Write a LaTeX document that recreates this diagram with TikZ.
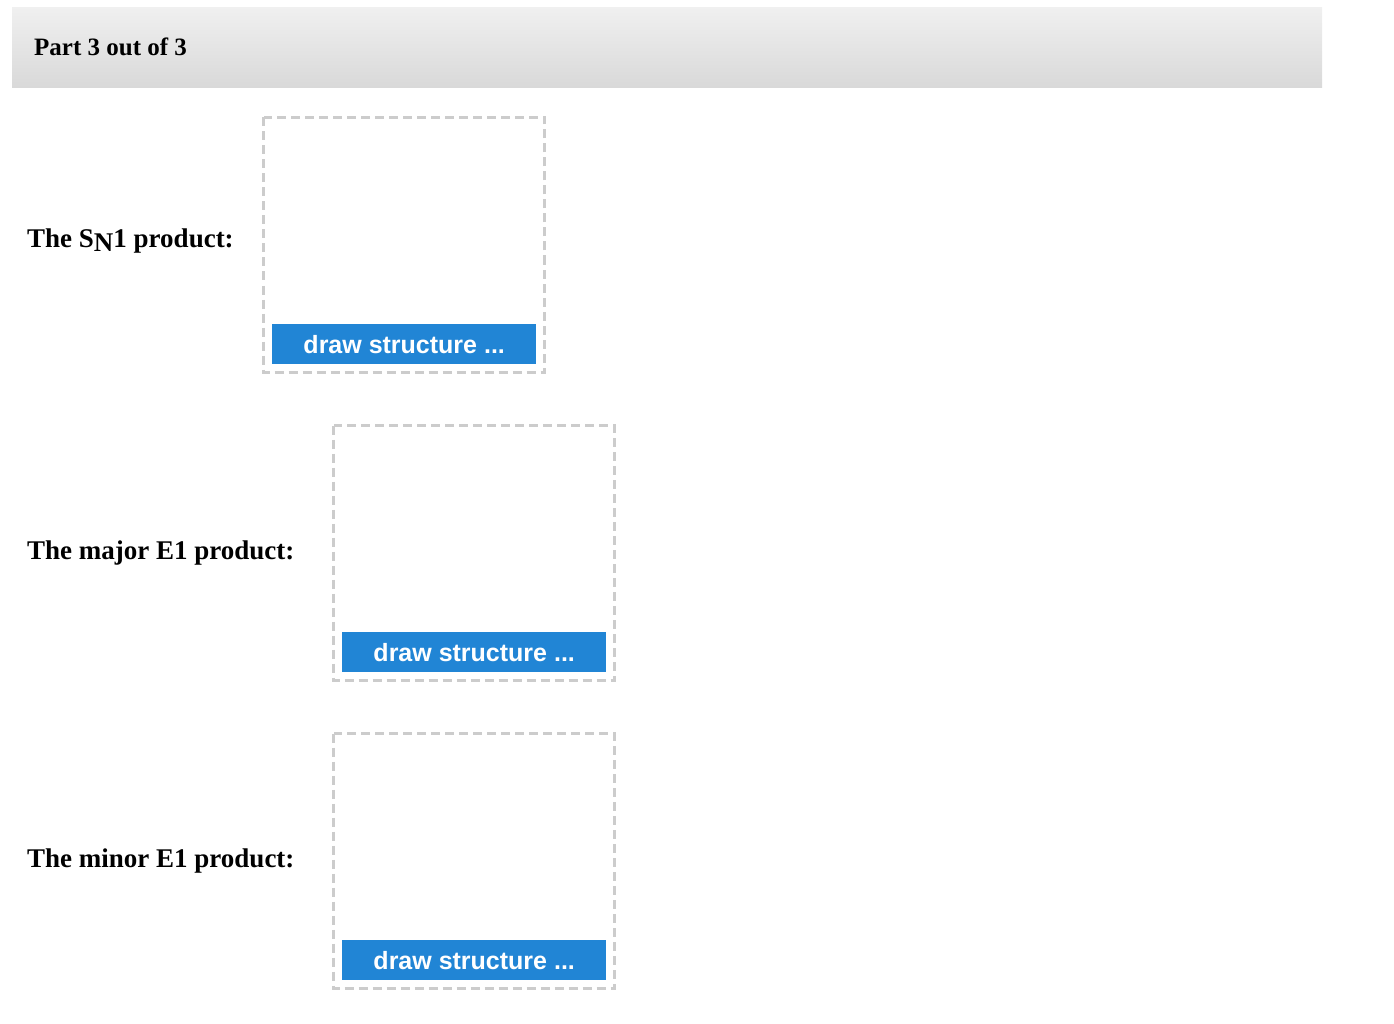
\documentclass[tikz,border=0pt]{standalone}
\usepackage{fontspec}
\setmainfont{Liberation Serif}
\setsansfont{Liberation Sans}
\definecolor{btn}{HTML}{2185D5}
\definecolor{dash}{HTML}{CCCCCC}
\begin{document}
\begin{tikzpicture}[x=1pt,y=-1pt,
  lbl/.style={anchor=west,font=\bfseries\fontsize{27}{30}\selectfont,inner sep=0},
  slot/.style={draw=dash,line width=3pt,dash pattern=on 9pt off 5pt},
  btnbox/.style={fill=btn,text=white,font=\sffamily\bfseries\fontsize{25}{28}\selectfont,inner sep=0,minimum width=264pt,minimum height=40pt,anchor=north west}]
\useasboundingbox (0,0) rectangle (1394,1024);
\shade[top color=black!6,bottom color=black!15] (12,8) rectangle (1322,88);
\node[lbl,font=\bfseries\fontsize{25}{28}\selectfont] (hdr) at (34,47) {Part 3 out of 3};
\node[lbl] (l1) at (27,241) {The S\raisebox{-0.3ex}{N}1 product:};
\node[lbl] (l2) at (27,553) {The major E1 product:};
\node[lbl] (l3) at (27,861) {The minor E1 product:};
\draw[slot] (263.5,117.5) rectangle (544.5,372.5);
\node[btnbox] (b1) at (272,324) {draw structure ...};
\draw[slot] (333.5,425.5) rectangle (614.5,680.5);
\node[btnbox] (b2) at (342,632) {draw structure ...};
\draw[slot] (333.5,733.5) rectangle (614.5,988.5);
\node[btnbox] (b3) at (342,940) {draw structure ...};
\end{tikzpicture}
\end{document}
